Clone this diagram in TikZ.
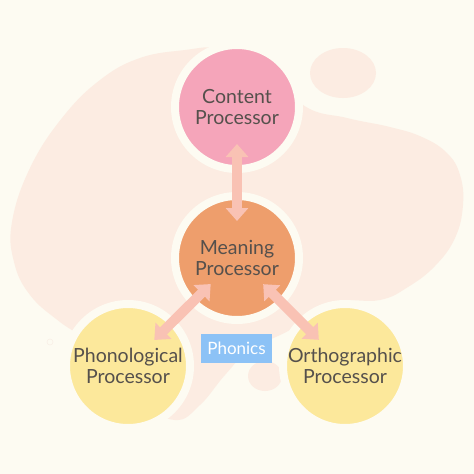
\documentclass[tikz,border=0pt]{standalone}
\usepackage{fontspec}
\setmainfont{Lato}
\usetikzlibrary{arrows.meta}
\definecolor{bgc}{HTML}{FDFBF2}
\definecolor{blobc}{HTML}{FCECE2}
\definecolor{pinkc}{HTML}{F5A5BA}
\definecolor{orangec}{HTML}{EE9E6C}
\definecolor{yellowc}{HTML}{FCE89B}
\definecolor{bluec}{HTML}{8CC2F6}
\definecolor{arrowc}{HTML}{F9C2B4}
\definecolor{txtc}{HTML}{55504C}
\tikzset{
  proc/.style={circle, minimum size=124pt, inner sep=0pt, draw=bgc, line width=8pt,
    align=center, text=txtc, font=\fontsize{19.5}{21}\selectfont},
  link/.style={draw=arrowc, line width=10pt,
    {Triangle[width=22pt,length=13pt]}-{Triangle[width=22pt,length=13pt]},
    shorten <=37pt, shorten >=37pt},
  tag/.style={fill=bluec, text=white, minimum width=71pt, minimum height=29pt,
    inner sep=0pt, font=\fontsize{17}{19}\selectfont}
}
\begin{document}
\begin{tikzpicture}[x=1pt,y=-1pt]
\fill[bgc] (0,0) rectangle (474,474);
\useasboundingbox (0,0) rectangle (474,474);
% background blob
\fill[blobc] plot[smooth cycle, tension=0.7] coordinates {
 (185,50) (140,58) (100,80) (62,118) (30,168) (12,222) (14,262) (30,295)
 (60,322) (100,350) (140,400) (175,420) (200,405) (225,375) (250,350)
 (290,330) (335,303) (380,300) (408,287) (435,266) (455,238) (463,205)
 (460,175) (447,153) (422,137) (390,127) (347,118) (303,105) (260,60) (220,48)};
\fill[blobc] (343,73) ellipse[x radius=33, y radius=25];
\fill[blobc] (265,376) ellipse[x radius=17, y radius=15];
\draw[blobc!80!brown!40, line width=0.6pt] (50,342) circle[radius=3];
% processors
\node[proc, fill=pinkc] (content) at (237,107) {Content\\Processor};
\node[proc, fill=orangec] (meaning) at (237,258) {Meaning\\Processor};
\node[proc, fill=yellowc] (phono) at (128,366) {Phonological\\Processor};
\node[proc, fill=yellowc] (ortho) at (345,366) {Orthographic\\Processor};
% connectors
\draw[link] (content.center) -- (meaning.center);
\draw[link] (meaning.center) -- (phono.center);
\draw[link] (meaning.center) -- (ortho.center);
% label
\node[tag] (phonics) at (236.5,348.5) {Phonics};
\end{tikzpicture}
\end{document}
